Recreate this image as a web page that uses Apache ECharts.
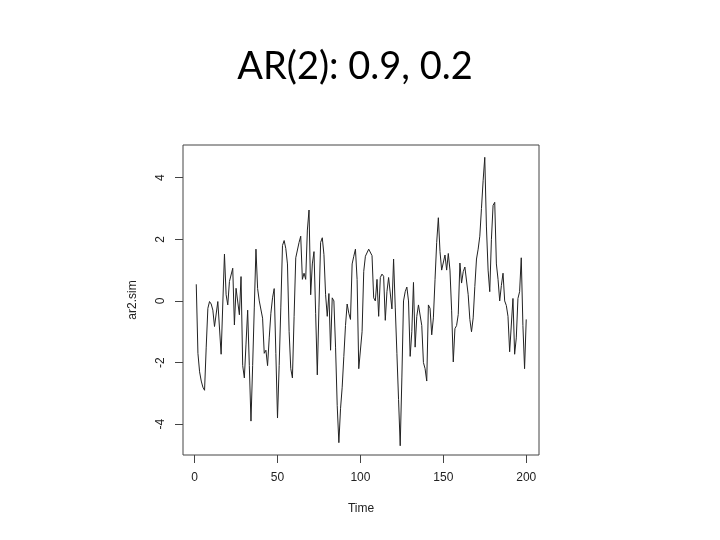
<!DOCTYPE html>
<html>
<head>
<meta charset="utf-8">
<script src="https://cdn.jsdelivr.net/npm/echarts@6/dist/echarts.min.js"></script>
<style>
html,body{margin:0;padding:0;background:#fff;}
#chart{width:720px;height:540px;}
</style>
</head>
<body>
<div id="chart"></div>
<script>
var titleText = 'AR(2): 0.9, 0.2';
var xName = 'Time';
var yName = 'ar2.sim';
var xTicks = [0, 50, 100, 150, 200];
var yTicks = [-4, -2, 0, 2, 4];

// ar2.sim values, t = 1..200
var values1 = [0.54,-1.7,-2.3,-2.6,-2.8,-2.9,-1.5,-0.24,-0.02,-0.1,
  -0.3,-0.83,-0.83,-0.02,-0.02,-1.73,-0.1,1.52,0.2,-0.13,
  0.63,0.63,1.06,-0.78,0.41,0.35,-0.45,0.79,-2.1,-2.5,
  -1.4,-0.3,-2.1,-3.9,-2.1,-0.2,1.68,0.4,0.0,0.0,
  -0.56,-1.7,-1.6,-2.1,-1.2,-0.4,0.1,0.4,-1.7,-3.8];
var values2 = [-2.1,-0.2,1.8,1.96,1.7,1.2,-1.0,-2.2,-2.5,-0.5,
  1.4,1.4,1.9,2.1,0.7,0.9,0.7,2.3,2.95,0.2,
  1.2,1.6,-0.4,-2.4,-0.2,1.9,2.05,1.5,0.2,-0.5,
  0.24,-1.6,0.1,0.0,-1.5,-3.4,-4.6,-3.5,-2.8,-1.8,
  -0.8,-0.1,-0.4,-0.6,1.2,1.45,1.68,0.7,-2.2,-2.2];
var values3 = [-1.0,0.96,1.45,1.4,1.68,1.73,1.47,0.1,0.0,0.7,
  -0.5,0.76,0.87,0.8,-0.63,0.3,0.76,0.82,-0.26,1.36,
  -0.2,-1.7,-3.2,-4.7,-2.5,0.0,0.3,0.45,0.0,-1.8,
  -1.0,0.6,-1.5,-0.5,-0.13,-0.1,-0.8,-2.0,-2.2,-2.6,
  -0.13,-0.24,-1.1,-0.55,0.7,1.9,2.7,1.6,1.0,0.95];
var values4 = [1.49,1.0,1.54,1.0,-0.3,-1.98,-0.9,-0.8,-0.44,1.23,
  0.58,0.95,1.1,1.1,0.2,-0.6,-1.0,-0.55,0.47,1.36,
  1.68,2.1,3.0,3.9,4.66,2.4,1.0,0.3,2.0,3.1,
  3.2,1.2,0.7,0.0,0.5,0.9,0.0,-0.15,-0.5,-1.65,
  -1.7,0.08,-1.73,-1.2,0.08,0.3,1.4,-0.8,-2.2,-0.6];

var values = values1.concat(values2, values3, values4);
var seriesData = values.map(function (v, i) { return [i + 1, v]; });

var chart = echarts.init(document.getElementById('chart'), null, {renderer: 'canvas'});
var axisFont = 'Liberation Sans';
chart.setOption({
  animation: false,
  backgroundColor: '#ffffff',
  graphic: [{
    type: 'text',
    x: 355,
    y: 67,
    style: {
      text: titleText,
      fontFamily: 'Lato',
      fontSize: 38,
      fill: '#000000',
      textAlign: 'center',
      textVerticalAlign: 'middle'
    }
  }],
  grid: {
    left: 183, top: 145, width: 356, height: 310,
    show: true, borderColor: '#444', borderWidth: 1, backgroundColor: 'transparent',
    containLabel: false
  },
  xAxis: {
    type: 'value',
    min: -7,
    max: 207.7,
    name: xName,
    nameLocation: 'middle',
    nameGap: 48,
    nameTextStyle: {fontFamily: axisFont, fontSize: 12, color: '#222'},
    axisLine: {show: false, onZero: false},
    axisTick: {show: true, customValues: xTicks, length: 8, lineStyle: {color: '#444'}},
    axisLabel: {customValues: xTicks, fontFamily: axisFont, fontSize: 12, color: '#222', margin: 17},
    splitLine: {show: false}
  },
  yAxis: {
    type: 'value',
    min: -5.0,
    max: 5.06,
    name: yName,
    nameLocation: 'middle',
    nameRotate: 90,
    nameGap: 44,
    nameTextStyle: {fontFamily: axisFont, fontSize: 12, color: '#222'},
    axisLine: {show: false, onZero: false},
    axisTick: {show: true, customValues: yTicks, length: 8, lineStyle: {color: '#444'}},
    axisLabel: {customValues: yTicks, rotate: 90, fontFamily: axisFont, fontSize: 12, color: '#222', margin: 16},
    splitLine: {show: false}
  },
  series: [{
    type: 'line',
    data: seriesData,
    showSymbol: false,
    symbol: 'none',
    lineStyle: {color: '#222', width: 1},
    silent: true
  }]
});
</script>
</body>
</html>
